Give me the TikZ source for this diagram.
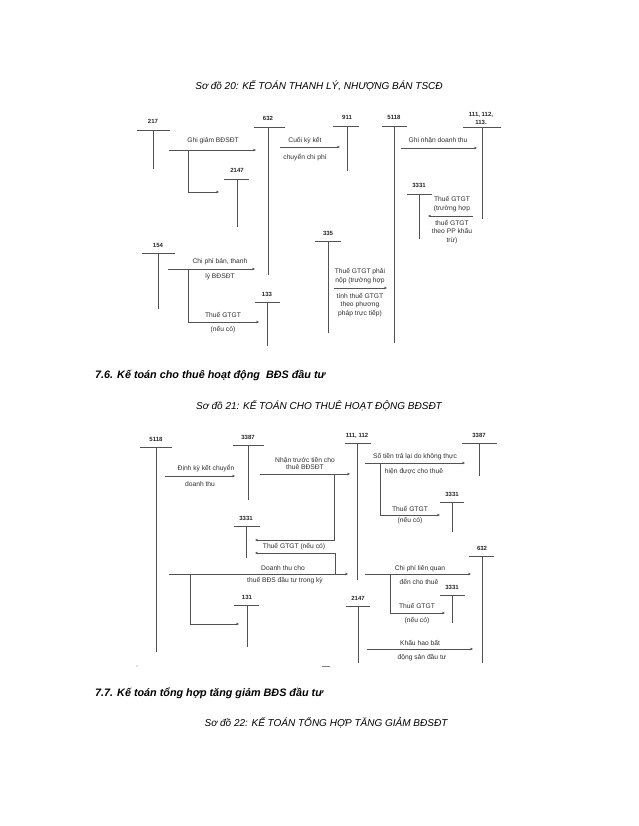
\documentclass[tikz,border=0pt]{standalone}
\usepackage{fontspec}
\setmainfont{Liberation Sans}
\usetikzlibrary{arrows.meta}
\tikzset{
  tline/.style={draw=black!68, line width=0.8pt},
  arr/.style={draw=black!68, line width=0.8pt, -{Stealth[length=3pt,width=2.6pt]}},
  acct/.style={font=\fontsize{6}{7}\selectfont\bfseries, text=black!85, inner sep=0pt, anchor=base},
  lbl/.style={font=\fontsize{6.7}{8.8}\selectfont, text=black!82, inner sep=0pt, align=center},
  ttl/.style={font=\fontsize{10}{12}\selectfont\itshape, inner sep=0pt},
  hdg/.style={font=\fontsize{10.8}{12}\selectfont\bfseries\itshape, inner sep=0pt, anchor=west},
}
\newcommand\tacct[7]{%
  \node[acct] (#1) at (#3,#4-6) {#2};
  \draw[tline] (#5,#4) -- (#6,#4);
  \draw[tline] (#3,#4) -- (#3,#7);
}
\begin{document}
\begin{tikzpicture}[x=1pt,y=-1pt]
\useasboundingbox[fill=white] (0,0) rectangle (638,826);

% ---------------- Titles ----------------
\node[ttl] (t20) at (319,86) {Sơ đồ 20: KẾ TOÁN THANH LÝ, NHƯỢNG BÁN TSCĐ};
\node[hdg] (h76) at (95,375) {7.6. Kế toán cho thuê hoạt động \ BĐS đầu tư};
\node[ttl] (t21) at (319,406) {Sơ đồ 21: KẾ TOÁN CHO THUÊ HOẠT ĐỘNG BĐSĐT};
\node[hdg] (h77) at (95,693) {7.7. Kế toán tổng hợp tăng giảm BĐS đầu tư};
\node[ttl] (t22) at (326,723) {Sơ đồ 22: KẾ TOÁN TỔNG HỢP TĂNG GIẢM BĐSĐT};

% ---------------- Diagram 20 ----------------
\tacct{a217}{217}{153}{130}{137}{170}{169}
\tacct{a632}{632}{268}{127}{254}{285}{275}
\tacct{a2147}{2147}{237}{179}{224}{249}{227}
\tacct{a911}{911}{347}{126}{333}{359}{171}
\tacct{a5118}{5118}{394}{126}{382}{407}{343}
\node[acct, align=center, anchor=south, font=\fontsize{6}{8}\selectfont\bfseries] (a111) at (481,125) {111, 112,\\113.};
\draw[tline] (463,127) -- (501,127);
\draw[tline] (482,127) -- (482,219);
\tacct{a3331}{3331}{419}{194}{407}{432}{239}
\tacct{a154}{154}{158}{253}{142}{175}{309}
\tacct{a133}{133}{267}{302}{255}{280}{346}
\tacct{a335}{335}{328}{241}{315}{341}{333}

\draw[arr] (169,150) -- (256,150);
\node[lbl] (l1) at (213,141) {Ghi giảm BĐSĐT};
\draw[arr] (188,150) -- (188,192) -- (219,192);

\draw[arr] (280,147) -- (340,147);
\node[lbl] (l2) at (305,141) {Cuối kỳ kết};
\node[lbl] (l3) at (305,157) {chuyển chi phí};

\draw[arr] (401,148) -- (477,148);
\node[lbl] (l4) at (438,141) {Ghi nhận doanh thu};

\draw[arr] (473,216) -- (428,216);
\node[lbl] (l5) at (452,204) {Thuế GTGT\\(trường hợp};
\node[lbl] (l6) at (452,232) {thuế GTGT\\theo PP khấu\\trừ)};

\draw[arr] (168,269) -- (255,269);
\node[lbl] (l7) at (220,262) {Chi phí bán, thanh};
\node[lbl] (l8) at (220,277) {lý BĐSĐT};
\draw[arr] (188,269) -- (188,322) -- (259,322);
\node[lbl] (l9) at (223,315) {Thuế GTGT};
\node[lbl] (l10) at (223,330) {(nếu có)};

\draw[arr] (334,288) -- (387,288);
\node[lbl] (l11) at (360,276) {Thuế GTGT phải\\nộp (trường hợp};
\node[lbl] (l12) at (360,305) {tính thuế GTGT\\theo phương\\pháp trực tiếp)};

% ---------------- Diagram 21 ----------------
\tacct{b5118}{5118}{156}{447}{140}{172}{652}
\tacct{b3387}{3387}{248}{445}{233}{264}{500}
\tacct{b111}{111, 112}{357}{443}{345}{371}{580}
\tacct{b3331a}{3331}{246}{526}{234}{260}{558}
\tacct{b131}{131}{247}{605}{234}{259}{647}
\tacct{b2147}{2147}{358}{606}{346}{370}{663}
\tacct{b3387r}{3387}{479}{443}{462}{497}{476}
\tacct{b3331b}{3331}{452}{502}{440}{464}{532}
\tacct{b632}{632}{482}{556}{469}{494}{663}
\tacct{b3331c}{3331}{452}{595}{440}{465}{623}

\draw[arr] (165,476) -- (235,476);
\node[lbl] (m1) at (206,468) {Định kỳ kết chuyển};
\node[lbl] (m2) at (200,484) {doanh thu};

\draw[arr] (260,474) -- (350,474);
\node[lbl, font=\fontsize{6.7}{7.5}\selectfont] (m3) at (305,463.5) {Nhận trước tiền cho\\thuê BĐSĐT};
\draw[arr] (334,474) -- (334,540) -- (255,540);
\node[lbl] (m4) at (294,547) {Thuế GTGT (nếu có)};
\draw[arr] (335,574) -- (335,553) -- (255,553);

\draw[arr] (169,574) -- (348,574);
\node[lbl] (m5) at (283,568) {Doanh thu cho};
\node[lbl] (m6) at (285,581) {thuế BĐS đầu tư trong kỳ};
\draw[arr] (190,574) -- (190,624) -- (239,624);

\draw[arr] (365,463) -- (465,463);
\node[lbl] (m7) at (415,457) {Số tiền trả lại do không thực};
\node[lbl] (m8) at (414,472) {hiện được cho thuê};
\draw[arr] (380,463) -- (380,515) -- (440,515);
\node[lbl] (m9) at (410,509) {Thuế GTGT};
\node[lbl] (m10) at (410,521) {(nếu có)};

\draw[arr] (365,574) -- (471,574);
\node[lbl] (m11) at (420,569) {Chi phí liên quan};
\node[lbl] (m12) at (419,582) {đến cho thuê};
\draw[arr] (390,574) -- (390,613) -- (445,613);
\node[lbl] (m13) at (417,606) {Thuế GTGT};
\node[lbl] (m14) at (417,621) {(nếu có)};

\draw[arr] (367,649) -- (473,649);
\node[lbl] (m15) at (420,643) {Khấu hao bất};
\node[lbl] (m16) at (422,658) {động sản đầu tư};

% small marks
\fill[black!50] (137,666) circle (0.6);
\draw[tline, black!50] (322,666) -- (330,666);
\end{tikzpicture}
\end{document}
